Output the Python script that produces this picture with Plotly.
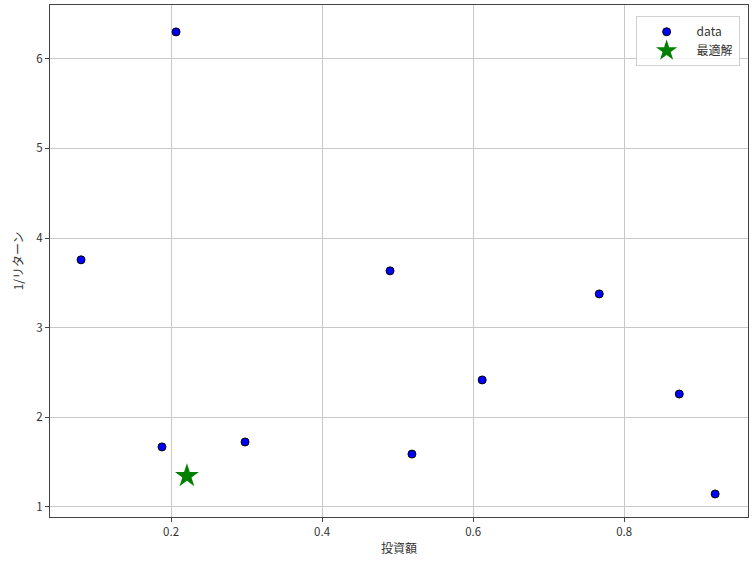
import plotly.graph_objects as go

x_data = [0.0808, 0.2066, 0.188, 0.298, 0.490, 0.519, 0.612, 0.767, 0.873, 0.9205]
y_data = [3.757, 6.30, 1.67, 1.725, 3.634, 1.59, 2.417, 3.377, 2.26, 1.145]
best_x = [0.221]
best_y = [1.346]
x_ticks = [0.2, 0.4, 0.6, 0.8]
y_ticks = [1, 2, 3, 4, 5, 6]

font = "Noto Sans CJK JP, DejaVu Sans, sans-serif"

fig = go.Figure()
fig.add_trace(go.Scatter(
    x=x_data, y=y_data, mode="markers", name="data",
    marker=dict(color="blue", size=8, line=dict(color="black", width=1)),
))
fig.add_trace(go.Scatter(
    x=best_x, y=best_y, mode="markers", name="最適解",
    marker=dict(color="green", size=18, symbol="star", line=dict(width=0)),
))

axis_common = dict(
    showgrid=True, gridcolor="#c8c8c8", gridwidth=1,
    showline=True, linecolor="#444444", linewidth=1.2, mirror=True,
    ticks="outside", ticklen=4, tickcolor="#444444", automargin=False,
    zeroline=False, tickfont=dict(size=11.5, color="#333333", family=font),
)

fig.update_layout(
    width=754, height=570,
    margin=dict(l=50, r=6, t=5, b=53, autoexpand=False),
    paper_bgcolor="white", plot_bgcolor="white",
    font=dict(family=font, color="#333333"),
    xaxis=dict(range=[0.0397, 0.964], tickvals=x_ticks, ticktext=[str(v) for v in x_ticks],
               title=dict(text="投資額", font=dict(size=12), standoff=6), **axis_common),
    yaxis=dict(range=[0.888, 6.60], tickvals=y_ticks,
               title=dict(text="1/リターン", font=dict(size=12), standoff=10), **axis_common),
    legend=dict(x=0.988, y=0.978, xanchor="right", yanchor="top",
                bgcolor="rgba(255,255,255,0.8)", bordercolor="#d0d0d0", borderwidth=1,
                font=dict(size=12), itemwidth=50, tracegroupgap=0),
    showlegend=True,
)

fig.write_html("out.html", config={"displayModeBar": False},
               post_script="document.body.style.margin='0';")
